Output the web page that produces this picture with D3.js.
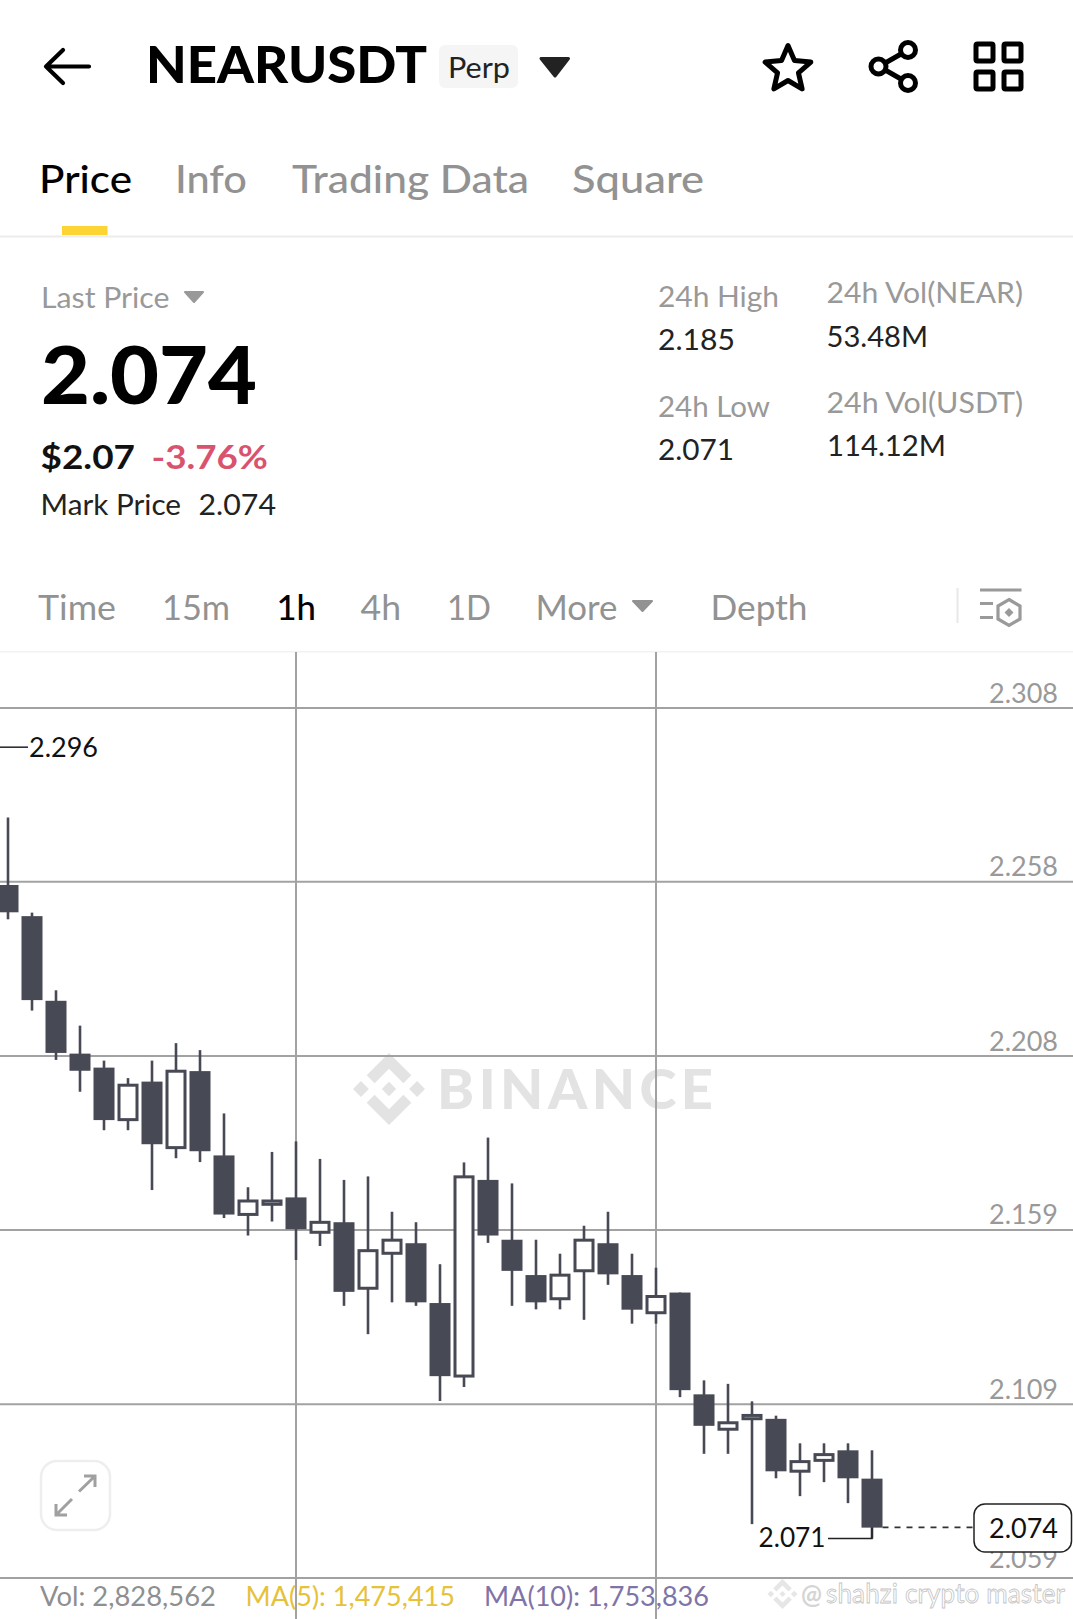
<!DOCTYPE html>
<html>
<head>
<meta charset="utf-8">
<script src="https://cdn.jsdelivr.net/npm/d3@7"></script>
<style>
  body { margin: 0; background: #fff; }
  svg { display: block; }
  text { font-family: Lato, sans-serif; }
</style>
</head>
<body>
<svg width="1073" height="1619"></svg>
<script>
// hourly candles
var opens = [2.2576, 2.2487, 2.2245, 2.2094, 2.2054, 2.1901, 2.2014, 2.1821, 2.2044, 2.1803, 2.1630, 2.1659, 2.1683, 2.1579, 2.1612, 2.1419, 2.1519, 2.1552, 2.1381, 2.1168, 2.1733, 2.1562, 2.1461, 2.1389, 2.1469, 2.1552, 2.1461, 2.1349, 2.1411, 2.1120, 2.1016, 2.1046, 2.1050, 2.0896, 2.0927, 2.0960, 2.0879];
var highs = [2.2769, 2.2497, 2.2275, 2.2174, 2.2074, 2.2024, 2.2074, 2.2124, 2.2104, 2.1923, 2.1712, 2.1813, 2.1843, 2.1793, 2.1733, 2.1743, 2.1642, 2.1612, 2.1492, 2.1783, 2.1854, 2.1723, 2.1562, 2.1522, 2.1602, 2.1642, 2.1522, 2.1482, 2.1411, 2.1160, 2.1150, 2.1100, 2.1059, 2.0980, 2.0980, 2.0980, 2.0960];
var lows = [2.2478, 2.2217, 2.2076, 2.1985, 2.1875, 2.1875, 2.1704, 2.1795, 2.1784, 2.1624, 2.1574, 2.1614, 2.1504, 2.1544, 2.1373, 2.1292, 2.1383, 2.1373, 2.1101, 2.1141, 2.1553, 2.1373, 2.1363, 2.1363, 2.1333, 2.1433, 2.1322, 2.1322, 2.1112, 2.0950, 2.0950, 2.0749, 2.0880, 2.0829, 2.0869, 2.0809, 2.0708];
var closes = [2.2498, 2.2247, 2.2096, 2.2045, 2.1904, 2.2008, 2.1835, 2.2048, 2.1815, 2.1634, 2.1677, 2.1677, 2.1592, 2.1616, 2.1413, 2.1535, 2.1565, 2.1383, 2.1172, 2.1746, 2.1574, 2.1473, 2.1383, 2.1465, 2.1565, 2.1463, 2.1362, 2.1404, 2.1132, 2.1030, 2.1043, 2.1064, 2.0900, 2.0932, 2.0952, 2.0880, 2.0739];

var priceTicks = [2.3082, 2.2585, 2.2087, 2.1590, 2.1092, 2.0595];
var priceLabels = ['2.308', '2.258', '2.208', '2.159', '2.109', '2.059'];
var gridCandles = [12, 27];

var lastPrice = 2.074;
var highLabel = 2.296;
var lowLabel = '2.071';

var tabs = ['Price', 'Info', 'Trading Data', 'Square'];
var periods = ['Time', '15m', '1h', '4h', '1D', 'More', 'Depth'];

var svg = d3.select('svg');

var x = d3.scaleLinear().domain([0, closes.length - 1]).range([8, 872]);
var y = d3.scaleLinear().domain([2.0595, 2.3082]).range([1578, 708]);

var candles = closes.map(function(c, i) {
  return { i: i, open: opens[i], high: highs[i], low: lows[i], close: c };
});

// text whose ends are pinned to where they sit in the picture
function label(str, x0, base, size, fill, weight, x1, adjust) {
  var t = svg.append('text')
    .attr('x', x0)
    .attr('y', base)
    .attr('font-size', size)
    .attr('font-weight', weight || 400)
    .attr('fill', fill)
    .text(str);
  if (x1) t.attr('textLength', x1 - x0).attr('lengthAdjust', adjust || 'spacingAndGlyphs');
  return t;
}

function binanceLogo(cx, cy, r, fill) {
  var g = svg.append('g').attr('transform', 'translate(' + cx + ',' + cy + ') scale(' + r + ')').attr('fill', fill);
  var d = 0.2;
  var shapes = [
    [[0, -d], [d, 0], [0, d], [-d, 0]],
    [[-1, 0], [-0.78, -0.22], [-0.56, 0], [-0.78, 0.22]],
    [[1, 0], [0.78, -0.22], [0.56, 0], [0.78, 0.22]],
    [[0, -1], [0.62, -0.38], [0.4, -0.16], [0, -0.56], [-0.4, -0.16], [-0.62, -0.38]],
    [[0, 1], [0.62, 0.38], [0.4, 0.16], [0, 0.56], [-0.4, 0.16], [-0.62, 0.38]]
  ];
  g.selectAll('polygon').data(shapes).enter().append('polygon')
    .attr('points', function(p) { return p.join(' '); });
}

// header
svg.append('path').attr('d', 'M89 66.5H46M63 50L46 66.5L63 83')
  .attr('fill', 'none').attr('stroke', '#000').attr('stroke-width', 4.2).attr('stroke-linecap', 'round').attr('stroke-linejoin', 'round');
label('NEARUSDT', 146, 83, 51, '#000', 900, 427);
svg.append('rect').attr('x', 439).attr('y', 45).attr('width', 79).attr('height', 43).attr('rx', 6).attr('fill', '#f5f5f5');
label('Perp', 448, 78, 28, '#222', 400, 510);
svg.append('path').attr('d', 'M541 58.5H568.5L555 76Z').attr('fill', '#222').attr('stroke', '#222').attr('stroke-width', 3).attr('stroke-linejoin', 'round');

// star, share and grid icons
var starPts = d3.range(10).map(function(k) {
  var rr = k % 2 ? 11 : 24, a = -Math.PI / 2 + k * Math.PI / 5;
  return [788 + rr * Math.cos(a), 69.5 + rr * Math.sin(a)].join(',');
}).join(' ');
svg.append('polygon').attr('points', starPts).attr('fill', 'none').attr('stroke', '#000').attr('stroke-width', 5).attr('stroke-linejoin', 'round');
svg.append('path').attr('d', 'M908 50L879 66.5L908 83').attr('fill', 'none').attr('stroke', '#000').attr('stroke-width', 5);
svg.selectAll('circle.share').data([[878.5, 66.5], [908, 50], [908, 83]]).enter().append('circle')
  .attr('class', 'share')
  .attr('cx', function(d) { return d[0]; }).attr('cy', function(d) { return d[1]; }).attr('r', 7.5)
  .attr('fill', '#fff').attr('stroke', '#000').attr('stroke-width', 5);
svg.selectAll('rect.tile').data([[976, 44], [1004, 44], [976, 72], [1004, 72]]).enter().append('rect')
  .attr('class', 'tile')
  .attr('x', function(d) { return d[0]; }).attr('y', function(d) { return d[1]; })
  .attr('width', 17).attr('height', 17).attr('rx', 1.5)
  .attr('fill', 'none').attr('stroke', '#000').attr('stroke-width', 5);

// tabs
var tabEnds = [[39, 132], [175, 247], [292, 529], [572, 704]];
tabs.forEach(function(t, i) {
  label(t, tabEnds[i][0], 192.5, 39, i === 0 ? '#000' : '#929292', 500, tabEnds[i][1]);
});
svg.append('rect').attr('x', 62).attr('y', 226).attr('width', 45.5).attr('height', 9).attr('fill', '#fcd535');
svg.append('rect').attr('x', 0).attr('y', 235.5).attr('width', 1073).attr('height', 2).attr('fill', '#ececec');

// price block
label('Last Price', 41, 307.5, 29, '#999', 400, 169.5);
svg.append('path').attr('d', 'M185 292H203L194 302Z').attr('fill', '#999').attr('stroke', '#999').attr('stroke-width', 2).attr('stroke-linejoin', 'round');
label('2.074', 41, 403.5, 80, '#000', 900, 257);
label('$2.07', 40.5, 469, 33, '#111', 700, 135);
label('-3.76%', 151.5, 469, 33, '#d9536f', 700, 268);
label('Mark Price', 40.5, 515, 28.5, '#222', 400, 181);
label('2.074', 198.5, 515, 28.5, '#222', 400, 276);

label('24h High', 658, 306.5, 28.5, '#999', 400, 779);
label('2.185', 658, 349.5, 28.5, '#222', 400, 735);
label('24h Low', 658, 417, 28.5, '#999', 400, 770);
label('2.071', 658, 459.5, 28.5, '#222', 400, 734);
label('24h Vol(NEAR)', 826.5, 302.5, 28.5, '#999', 400, 1023);
label('53.48M', 826.5, 346.5, 28.5, '#222', 400, 928);
label('24h Vol(USDT)', 826.5, 412.5, 28.5, '#999', 400, 1023);
label('114.12M', 827, 456, 28.5, '#222', 400, 946);

// interval row
var periodEnds = [[38, 116], [162, 230], [276.5, 316], [360.5, 401], [447, 491], [535.5, 617.5], [710.5, 807.5]];
periods.forEach(function(p, i) {
  label(p, periodEnds[i][0], 619.5, 34, i === 2 ? '#000' : '#929292', i === 2 ? 500 : 400, periodEnds[i][1]);
});
svg.append('path').attr('d', 'M633 601H652L642.5 611Z').attr('fill', '#929292').attr('stroke', '#929292').attr('stroke-width', 2).attr('stroke-linejoin', 'round');
svg.append('rect').attr('x', 956.5).attr('y', 588).attr('width', 2).attr('height', 35).attr('fill', '#e8e8e8');
svg.append('rect').attr('x', 0).attr('y', 651).attr('width', 1073).attr('height', 1.5).attr('fill', '#f2f2f2');
svg.append('path').attr('d', 'M980 590H1021.5M980 603.5H993M980 617.5H993').attr('stroke', '#9a9a9a').attr('stroke-width', 3.2).attr('fill', 'none');
svg.append('path').attr('d', 'M1009 599.5L1020 606V619L1009 625.5L998 619V606Z').attr('fill', 'none').attr('stroke', '#9a9a9a').attr('stroke-width', 3.2);
svg.append('path').attr('d', 'M1009 608L1013.5 612.5L1009 617L1004.5 612.5Z').attr('fill', '#9a9a9a');

// watermark under the chart
binanceLogo(389, 1089, 36, '#e3e3e3');
label('BINANCE', 437, 1108.5, 56, '#e3e3e3', 900, 713, 'spacing');

// footer values
label('Vol: 2,828,562', 40, 1605.5, 27, '#8f8f8f', 400, 216);
label('MA(5): 1,475,415', 245.5, 1605.5, 27, '#e6c23a', 400, 455);
label('MA(10): 1,753,836', 484, 1605.5, 27, '#7f74a8', 400, 709);

binanceLogo(782.5, 1594, 15, '#e6e6e6');
label('@', 801, 1603.5, 26, '#d5d5d5', 700, 822);
label('shahzi crypto master', 826, 1603, 26, '#fff', 400, 1065, 'spacing').attr('stroke', '#c4c4c4').attr('stroke-width', 0.8);

// grid
var gridColor = '#a2a2a2';
var yAxis = d3.axisRight(y)
  .offset(0)
  .tickValues(priceTicks)
  .tickSize(1073)
  .tickFormat(function(d, i) { return priceLabels[i]; });
var yG = svg.append('g').call(yAxis);
yG.select('.domain').remove();
yG.selectAll('line').attr('stroke', gridColor).attr('stroke-width', 2);
yG.selectAll('text')
  .attr('x', 1058)
  .attr('dy', null)
  .attr('y', function(d, i) { return i === priceTicks.length - 1 ? -10 : -5.5; })
  .attr('text-anchor', 'end')
  .attr('font-size', 27)
  .attr('font-family', 'Lato, sans-serif')
  .attr('fill', '#999')
  .attr('textLength', 69)
  .attr('lengthAdjust', 'spacingAndGlyphs');

var xAxis = d3.axisBottom(x).offset(0).tickValues(gridCandles).tickSize(967).tickFormat('');
var xG = svg.append('g').attr('transform', 'translate(0,652)').call(xAxis);
xG.select('.domain').remove();
xG.selectAll('line').attr('stroke', gridColor).attr('stroke-width', 2);

// candles
var candleColor = '#474954', bodyW = 21, wickW = 2.6, strokeW = 3;
var c = svg.selectAll('g.candle').data(candles).enter().append('g').attr('class', 'candle');
c.append('line')
  .attr('x1', function(d) { return x(d.i); })
  .attr('x2', function(d) { return x(d.i); })
  .attr('y1', function(d) { return y(d.high); })
  .attr('y2', function(d) { return y(d.low); })
  .attr('stroke', candleColor)
  .attr('stroke-width', wickW);
c.append('rect')
  .attr('x', function(d) { return x(d.i) - bodyW / 2 + (d.close > d.open ? strokeW / 2 : 0); })
  .attr('y', function(d) { return y(Math.max(d.open, d.close)) + (d.close > d.open ? strokeW / 2 : 0); })
  .attr('width', function(d) { return d.close > d.open ? bodyW - strokeW : bodyW; })
  .attr('height', function(d) {
    var h = y(Math.min(d.open, d.close)) - y(Math.max(d.open, d.close));
    return d.close > d.open ? h - strokeW : h;
  })
  .attr('fill', function(d) { return d.close > d.open ? '#fff' : candleColor; })
  .attr('stroke', function(d) { return d.close > d.open ? candleColor : 'none'; })
  .attr('stroke-width', strokeW);

// high / low pointers
svg.append('line').attr('x1', 0).attr('x2', 28).attr('y1', y(highLabel) - 3.5).attr('y2', y(highLabel) - 3.5).attr('stroke', '#222').attr('stroke-width', 1.5);
label(String(highLabel), 29, 757, 27, '#111', 400, 98);

var lastCandle = candles[candles.length - 1];
svg.append('path')
  .attr('d', 'M' + 828 + ' ' + y(lastCandle.low) + 'H' + x(lastCandle.i) + 'V' + y(lastCandle.close))
  .attr('fill', 'none').attr('stroke', '#222').attr('stroke-width', 1.5);
label(lowLabel, 758.5, 1547, 27, '#111', 400, 825.5);

// last price tag
svg.append('line')
  .attr('x1', x(lastCandle.i) + bodyW / 2).attr('x2', 974)
  .attr('y1', y(lastPrice)).attr('y2', y(lastPrice))
  .attr('stroke', '#333').attr('stroke-width', 1.8).attr('stroke-dasharray', '6,6');
svg.append('rect').attr('x', 974).attr('y', 1504).attr('width', 97.5).attr('height', 48).attr('rx', 11)
  .attr('fill', '#fff').attr('stroke', '#222').attr('stroke-width', 1.5);
label(lastPrice.toFixed(3), 989, 1537.5, 27, '#111', 400, 1058);

// expand button
svg.append('rect').attr('x', 41).attr('y', 1461).attr('width', 69).attr('height', 69).attr('rx', 16)
  .attr('fill', '#fff').attr('stroke', '#eee').attr('stroke-width', 2.5);
svg.append('path').attr('d', 'M79 1491.5L95 1476M84 1476H95V1487M72 1499L56 1515M56 1504V1515H67')
  .attr('fill', 'none').attr('stroke', '#a0a0a0').attr('stroke-width', 3);
</script>
</body>
</html>
